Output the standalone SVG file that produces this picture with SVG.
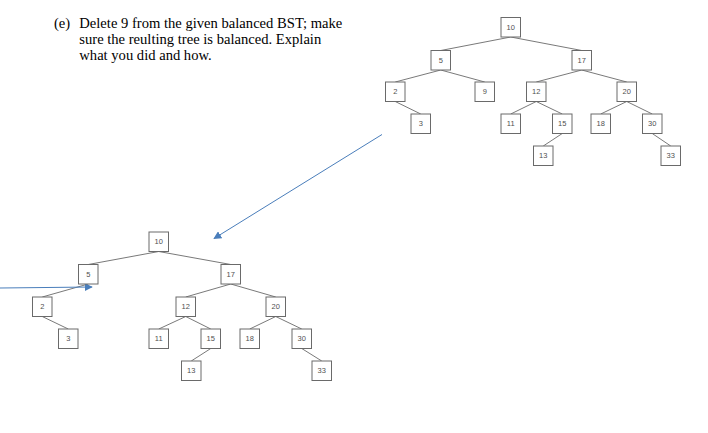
<svg xmlns="http://www.w3.org/2000/svg" width="708" height="433" viewBox="0 0 708 433">
<style>
  .q { font-family: "Liberation Serif", "Times New Roman", serif; font-size: 14.6px; fill: #000; }
  .box { fill: #fff; stroke: #6a6a6a; stroke-width: 1; }
  .lbl { font-family: "Liberation Sans", Arial, sans-serif; font-size: 7.5px; fill: #505050; text-anchor: middle; }
  .edge { stroke: #6a6a6a; stroke-width: 0.9; fill: none; }
  .blue { stroke: #4a7ebb; stroke-width: 1; fill: none; }
</style>
<defs>
  <marker id="ah" viewBox="0 0 10 10" refX="9" refY="5" markerWidth="8" markerHeight="8" markerUnits="userSpaceOnUse" orient="auto">
    <path d="M0,0 L10,5 L0,10 z" fill="#4a7ebb"/>
  </marker>
</defs>
<rect width="708" height="433" fill="#fff"/>
<g id="question">
  <text class="q" x="54" y="28.3">(e)</text>
  <text class="q" x="79.3" y="28.3">Delete 9 from the given balanced BST; make</text>
  <text class="q" x="79.3" y="44.3">sure the reulting tree is balanced. Explain</text>
  <text class="q" x="79.3" y="59.8">what you did and how.</text>
</g>
<g id="connectors">
  <line class="edge" x1="510.75" y1="37" x2="440.75" y2="50.5"/>
  <line class="edge" x1="510.75" y1="37" x2="581.75" y2="50.5"/>
  <line class="edge" x1="440.75" y1="70" x2="395.25" y2="82"/>
  <line class="edge" x1="440.75" y1="70" x2="484.75" y2="82"/>
  <line class="edge" x1="581.75" y1="70" x2="536.25" y2="82"/>
  <line class="edge" x1="581.75" y1="70" x2="626.75" y2="82"/>
  <line class="edge" x1="395.25" y1="101.5" x2="420.75" y2="114"/>
  <line class="edge" x1="536.25" y1="101.5" x2="510.75" y2="114"/>
  <line class="edge" x1="536.25" y1="101.5" x2="562.25" y2="114"/>
  <line class="edge" x1="626.75" y1="101.5" x2="600.75" y2="114"/>
  <line class="edge" x1="626.75" y1="101.5" x2="652.25" y2="114"/>
  <line class="edge" x1="562.25" y1="133.5" x2="543.25" y2="146"/>
  <line class="edge" x1="652.25" y1="133.5" x2="670.75" y2="146"/>

  <line class="edge" x1="158.75" y1="251.5" x2="88.25" y2="264.5"/>
  <line class="edge" x1="158.75" y1="251.5" x2="230.75" y2="264.5"/>
  <line class="edge" x1="88.25" y1="284" x2="42.25" y2="297"/>
  <line class="edge" x1="230.75" y1="284" x2="185.75" y2="297"/>
  <line class="edge" x1="230.75" y1="284" x2="275.75" y2="297"/>
  <line class="edge" x1="42.25" y1="316.5" x2="68.25" y2="329"/>
  <line class="edge" x1="185.75" y1="316.5" x2="158.75" y2="329"/>
  <line class="edge" x1="185.75" y1="316.5" x2="210.75" y2="329"/>
  <line class="edge" x1="275.75" y1="316.5" x2="249.75" y2="329"/>
  <line class="edge" x1="275.75" y1="316.5" x2="301.75" y2="329"/>
  <line class="edge" x1="210.75" y1="348.5" x2="191.25" y2="361"/>
  <line class="edge" x1="301.75" y1="348.5" x2="321.75" y2="361"/>

  <line class="blue" x1="382" y1="134.5" x2="214" y2="238.5" marker-end="url(#ah)"/>
  <line class="blue" x1="0" y1="288" x2="92" y2="287" marker-end="url(#ah)"/>
</g>
<g id="t1-10"><rect class="box" x="501" y="17.5" width="19.5" height="19.5"/><text class="lbl" x="510.75" y="29.9">10</text></g>
<g id="t1-5"><rect class="box" x="431" y="50.5" width="19.5" height="19.5"/><text class="lbl" x="440.75" y="62.9">5</text></g>
<g id="t1-17"><rect class="box" x="572" y="50.5" width="19.5" height="19.5"/><text class="lbl" x="581.75" y="62.9">17</text></g>
<g id="t1-2"><rect class="box" x="385.5" y="82" width="19.5" height="19.5"/><text class="lbl" x="395.25" y="94.4">2</text></g>
<g id="t1-9"><rect class="box" x="475" y="82" width="19.5" height="19.5"/><text class="lbl" x="484.75" y="94.4">9</text></g>
<g id="t1-12"><rect class="box" x="526.5" y="82" width="19.5" height="19.5"/><text class="lbl" x="536.25" y="94.4">12</text></g>
<g id="t1-20"><rect class="box" x="617" y="82" width="19.5" height="19.5"/><text class="lbl" x="626.75" y="94.4">20</text></g>
<g id="t1-3"><rect class="box" x="411" y="114" width="19.5" height="19.5"/><text class="lbl" x="420.75" y="126.4">3</text></g>
<g id="t1-11"><rect class="box" x="501" y="114" width="19.5" height="19.5"/><text class="lbl" x="510.75" y="126.4">11</text></g>
<g id="t1-15"><rect class="box" x="552.5" y="114" width="19.5" height="19.5"/><text class="lbl" x="562.25" y="126.4">15</text></g>
<g id="t1-18"><rect class="box" x="591" y="114" width="19.5" height="19.5"/><text class="lbl" x="600.75" y="126.4">18</text></g>
<g id="t1-30"><rect class="box" x="642.5" y="114" width="19.5" height="19.5"/><text class="lbl" x="652.25" y="126.4">30</text></g>
<g id="t1-13"><rect class="box" x="533.5" y="146" width="19.5" height="19.5"/><text class="lbl" x="543.25" y="158.4">13</text></g>
<g id="t1-33"><rect class="box" x="661" y="146" width="19.5" height="19.5"/><text class="lbl" x="670.75" y="158.4">33</text></g>

<g id="t2-10"><rect class="box" x="149" y="232" width="19.5" height="19.5"/><text class="lbl" x="158.75" y="244.4">10</text></g>
<g id="t2-5"><rect class="box" x="78.5" y="264.5" width="19.5" height="19.5"/><text class="lbl" x="88.25" y="276.9">5</text></g>
<g id="t2-17"><rect class="box" x="221" y="264.5" width="19.5" height="19.5"/><text class="lbl" x="230.75" y="276.9">17</text></g>
<g id="t2-2"><rect class="box" x="32.5" y="297" width="19.5" height="19.5"/><text class="lbl" x="42.25" y="309.4">2</text></g>
<g id="t2-12"><rect class="box" x="176" y="297" width="19.5" height="19.5"/><text class="lbl" x="185.75" y="309.4">12</text></g>
<g id="t2-20"><rect class="box" x="266" y="297" width="19.5" height="19.5"/><text class="lbl" x="275.75" y="309.4">20</text></g>
<g id="t2-3"><rect class="box" x="58.5" y="329" width="19.5" height="19.5"/><text class="lbl" x="68.25" y="341.4">3</text></g>
<g id="t2-11"><rect class="box" x="149" y="329" width="19.5" height="19.5"/><text class="lbl" x="158.75" y="341.4">11</text></g>
<g id="t2-15"><rect class="box" x="201" y="329" width="19.5" height="19.5"/><text class="lbl" x="210.75" y="341.4">15</text></g>
<g id="t2-18"><rect class="box" x="240" y="329" width="19.5" height="19.5"/><text class="lbl" x="249.75" y="341.4">18</text></g>
<g id="t2-30"><rect class="box" x="292" y="329" width="19.5" height="19.5"/><text class="lbl" x="301.75" y="341.4">30</text></g>
<g id="t2-13"><rect class="box" x="181.5" y="361" width="19.5" height="19.5"/><text class="lbl" x="191.25" y="373.4">13</text></g>
<g id="t2-33"><rect class="box" x="312" y="361" width="19.5" height="19.5"/><text class="lbl" x="321.75" y="373.4">33</text></g>
</svg>
